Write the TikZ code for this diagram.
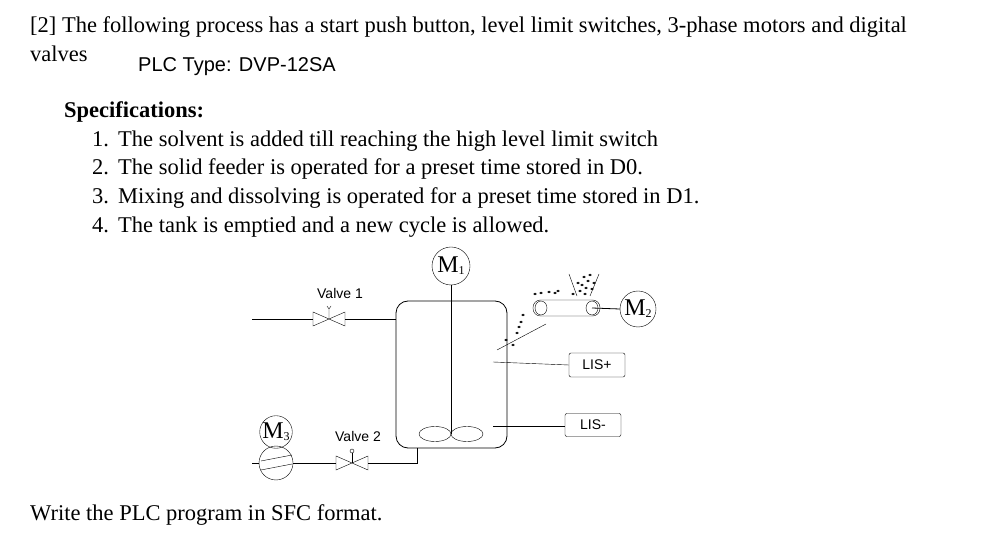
\documentclass[tikz,border=0pt]{standalone}
\usepackage{fontspec}
\usetikzlibrary{shapes.geometric}
\setmainfont{Liberation Serif}
\newfontfamily\arial{Liberation Sans}
\newcommand\msub[1]{\raisebox{-2pt}{\fontsize{12}{12}\selectfont#1}}
\begin{document}
\begin{tikzpicture}[x=1pt,y=-1pt,
  txt/.style={anchor=base west,inner sep=0pt,font=\fontsize{22.5}{26}\selectfont},
  lbl/.style={font=\arial\fontsize{14}{16}\selectfont,inner sep=0pt},
  mot/.style={draw,circle,minimum size=#1,inner sep=0pt,font=\fontsize{24}{24}\selectfont},
  ln/.style={line width=0.8pt},
  box/.style={draw,rounded corners=2pt,font=\arial\fontsize{14}{16}\selectfont},
  dot/.style={fill,ellipse,inner sep=0pt,minimum width=3.5pt,minimum height=2.5pt}]
\useasboundingbox (0,0) rectangle (983,534);
\node[txt] (t1) at (30,33) {[2] The following process has a start push button, level limit switches, 3-phase motors and digital};
\node[txt] (t2) at (30,62) {valves};
\node[anchor=base west,inner sep=0pt,font=\arial\fontsize{20}{22}\selectfont] (plc) at (138,72) {PLC Type: DVP-12SA};
\node[txt,font=\bfseries\fontsize{22.5}{26}\selectfont] (sp) at (64,118) {Specifications:};
\foreach \n/\y/\s in {1/147/The solvent is added till reaching the high level limit switch,
 2/175/The solid feeder is operated for a preset time stored in D0.,
 3/204/Mixing and dissolving is operated for a preset time stored in D1.,
 4/233/The tank is emptied and a new cycle is allowed.}{
 \node[txt] (n\n) at (92,\y) {\n.};
 \node[txt] (s\n) at (118,\y) {\s};}
\node[txt] (w) at (30,520) {Write the PLC program in SFC format.};
% tank
\draw[ln,rounded corners=12pt] (396,301) rectangle (507,448);
\node[mot=38pt] (m1) at (451,266) {M\msub{1}};
\coordinate (hub) at (451,434);
\draw (m1.south) -- (hub);
\draw (435,434) ellipse (16 and 7.5);
\draw (467,434) ellipse (16 and 7.5);
% valve 1
\coordinate (in1) at (252,319);
\coordinate (v1) at (329,319);
\draw[ln] (in1) -- (313,319) (345,319) -- (396,319);
\draw (313,312) -- (345,326) -- (345,312) -- (313,326) -- cycle;
\draw (v1) -- (329,309) (327,306) -- (329,309) -- (331,306);
\node[lbl] (l1) at (340,293) {Valve 1};
% M3 pump valve 2
\node[mot=32pt] (m3) at (276,432) {M\msub{3}};
\node[draw,circle,minimum size=34pt,inner sep=0pt] (p) at (276,463) {};
\draw (261,461) -- (292,455) (261,470) -- (292,464);
\draw (252,463) -- (p.west);
\coordinate (v2) at (352,463);
\draw[ln] (p.east) -- (336,463) (368,463) -- (417,463) -- (417,448);
\draw (336,456) -- (368,470) -- (368,456) -- (336,470) -- cycle;
\draw (v2) -- (352,453);
\draw (352,451) circle (2);
\node[lbl] (l2) at (358,436) {Valve 2};
% conveyor
\node[draw,ellipse,minimum width=12pt,minimum height=14pt,inner sep=0pt] (r1) at (541,308) {};
\node[draw,ellipse,minimum width=12pt,minimum height=14pt,inner sep=0pt] (r2) at (592,308) {};
\draw[rounded corners=7.5pt] (533,300) rectangle (600,316);
\node[mot=36pt] (m2) at (638,309) {M\msub{2}};
\draw[ln] (r2.center) -- (m2.west);
\draw (497,350) -- (546,324);
\draw (569,274) -- (577,296) (599,274) -- (590,296);
\foreach \p in {(535,294),(541,293),(549,292),(558,291),(555,293),(573,294),(580,291),(585,294),(582,285),(588,281),(584,277),(590,275),(594,283),(586,288),(578,283),(592,289),(523,315),(521,322),(519,327),(517,333),(506,340),(513,345)}
  \node[dot] at \p {};
% LIS
\node[box,minimum width=56pt,minimum height=24pt] (lp) at (597,365) {LIS+};
\node[box,minimum width=56pt,minimum height=23pt] (lm) at (593,425) {LIS-};
\draw (493,362) -- (lp.west);
\draw (493,426) -- (lm.west|-493,426);
\end{tikzpicture}
\end{document}
